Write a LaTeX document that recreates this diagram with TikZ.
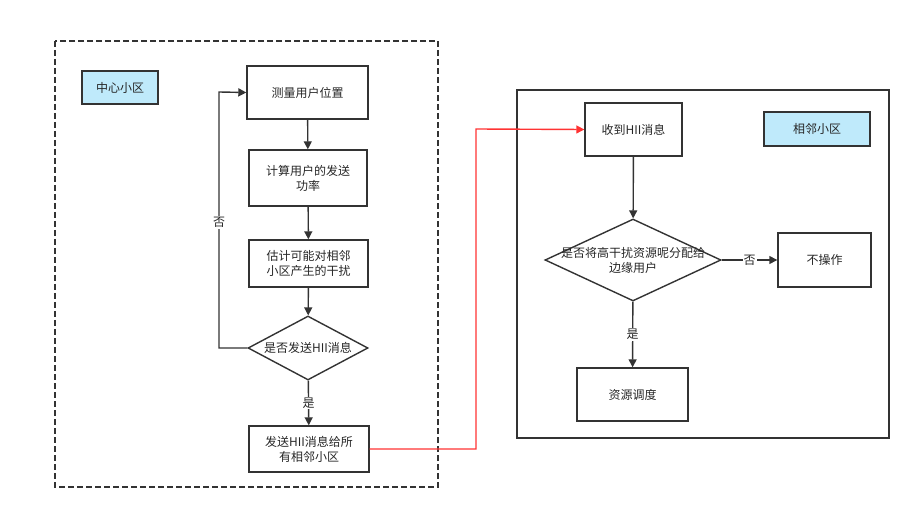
\documentclass[tikz,border=0pt]{standalone}
\usepackage{fontspec}
\setmainfont{Noto Sans CJK SC}
\usetikzlibrary{shapes.geometric,arrows.meta}
\begin{document}
\begin{tikzpicture}[x=1pt,y=-1pt,
  every node/.style={font=\fontsize{12}{15}\selectfont, text=black!85},
  box/.style={draw=black!80, line width=1.4pt, minimum width=#1, align=center, inner sep=2pt},
  lbl/.style={draw=black!80, fill=cyan!25!white, line width=1.2pt, minimum width=76, minimum height=33},
  dia/.style={draw=black!80, line width=1.4pt, diamond, aspect=#1, inner sep=0pt, align=center},
  arr/.style={draw=black!80, line width=1.4pt, -{Triangle[length=8pt,width=8pt]}},
  lab/.style={fill=white, inner sep=1pt}]
\useasboundingbox (0,0) rectangle (919,505);
\draw[black!80, line width=1.4pt, dash pattern=on 6pt off 3pt] (55,41) rectangle (438,487);
\draw[black!80, line width=1.4pt] (517,90) rectangle (889,438);
\node[lbl] (zx) at (120,87.5) {中心小区};
\node[lbl, minimum width=106, minimum height=34] (xl) at (817,129) {相邻小区};
\node[box=121, minimum height=53] (a) at (307.5,92.5) {测量用户位置};
\node[box=118, minimum height=56] (b) at (308,178) {计算用户的发送\\功率};
\node[box=119, minimum height=47] (c) at (308.5,263.5) {估计可能对相邻\\小区产生的干扰};
\node[dia=1.9, minimum width=120, minimum height=64] (d) at (308,348) {};
\node at (308,348) {是否发送HII消息};
\node[box=120, minimum height=46] (e) at (309,449) {发送HII消息给所\\有相邻小区};
\node[box=97, minimum height=53] (f) at (633.5,129.5) {收到HII消息};
\node[dia=2.15, minimum width=176, minimum height=82] (g) at (633,260) {};
\node[align=center] at (633,260) {是否将高干扰资源呢分配给\\边缘用户};
\node[box=93, minimum height=54] (h) at (824.5,260) {不操作};
\node[box=111, minimum height=53] (k) at (632.5,394.5) {资源调度};
\draw[arr] (a) -- (b);
\draw[arr] (b) -- (c);
\draw[arr] (c) -- (d);
\draw[arr] (d) -- node[lab]{是} (e);
\draw[arr] (d.west) -- (219,348) -- node[lab,pos=0.49]{否} (219,92) -- (a.west);
\draw[red!80, line width=1.4pt, -{Triangle[length=8pt,width=8pt]}] (e.east) -- (476,449) -- (476,129) -- (f.west);
\draw[arr] (f) -- (g);
\draw[arr] (g) -- node[lab]{否} (h);
\draw[arr] (g) -- node[lab]{是} (k);
\end{tikzpicture}
\end{document}
